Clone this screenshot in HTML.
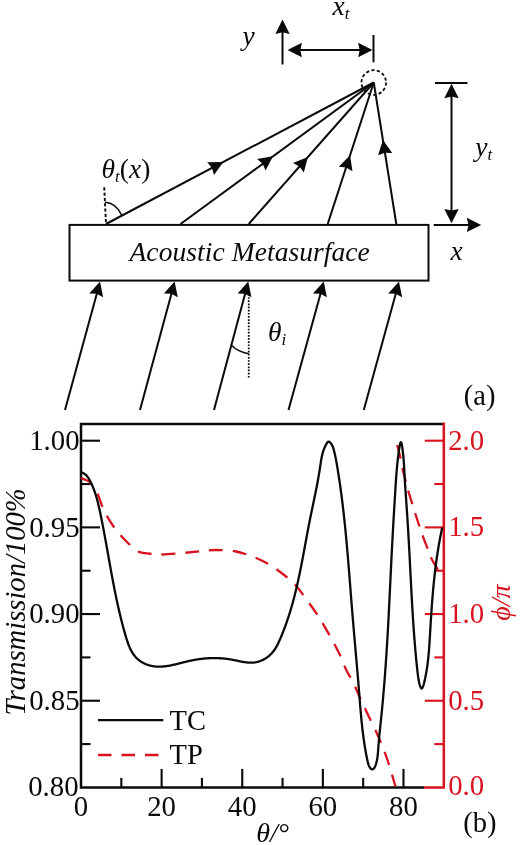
<!DOCTYPE html>
<html><head><meta charset="utf-8"><title>Acoustic Metasurface</title>
<style>
html,body{margin:0;padding:0;background:#fff;}
body{width:520px;height:845px;overflow:hidden;}
svg{display:block;}
svg text{font-family:"Liberation Serif","DejaVu Serif",serif;}
</style></head><body>
<svg width="520" height="845" viewBox="0 0 520 845">
<rect x="0" y="0" width="520" height="845" fill="#ffffff"/>
<rect x="69.5" y="224.9" width="359" height="55.7" fill="none" stroke="#0a0a0a" stroke-width="2.0"/>
<line x1="106.00" y1="224.00" x2="373.75" y2="82.50" stroke="#0a0a0a" stroke-width="2.0" />
<polygon points="223.32,162.00 213.95,175.09 212.00,167.98 207.22,162.36" fill="#0a0a0a"/>
<line x1="180.50" y1="224.00" x2="373.75" y2="82.50" stroke="#0a0a0a" stroke-width="2.0" />
<polygon points="272.96,156.30 265.59,170.62 262.63,163.86 257.09,159.00" fill="#0a0a0a"/>
<line x1="248.75" y1="224.00" x2="373.75" y2="82.50" stroke="#0a0a0a" stroke-width="2.0" />
<polygon points="307.94,157.00 303.80,172.56 299.46,166.59 293.01,163.03" fill="#0a0a0a"/>
<line x1="327.70" y1="224.00" x2="373.75" y2="82.50" stroke="#0a0a0a" stroke-width="2.0" />
<polygon points="350.06,155.30 352.45,171.22 346.10,167.47 338.75,166.76" fill="#0a0a0a"/>
<line x1="396.30" y1="224.00" x2="373.75" y2="82.50" stroke="#0a0a0a" stroke-width="2.0" />
<polygon points="382.91,140.00 392.29,153.09 384.93,152.64 378.07,155.35" fill="#0a0a0a"/>
<line x1="65.00" y1="410.00" x2="97.89" y2="289.72" stroke="#0a0a0a" stroke-width="2.0" />
<polygon points="100.00,281.50 103.15,297.29 96.62,293.85 89.26,293.49" fill="#0a0a0a"/>
<line x1="140.00" y1="410.00" x2="172.51" y2="289.72" stroke="#0a0a0a" stroke-width="2.0" />
<polygon points="174.60,281.50 177.79,297.28 171.26,293.86 163.89,293.52" fill="#0a0a0a"/>
<line x1="214.00" y1="410.00" x2="246.18" y2="289.73" stroke="#0a0a0a" stroke-width="2.0" />
<polygon points="248.25,281.50 251.48,297.27 244.94,293.86 237.57,293.55" fill="#0a0a0a"/>
<line x1="288.50" y1="410.00" x2="321.63" y2="289.71" stroke="#0a0a0a" stroke-width="2.0" />
<polygon points="323.75,281.50 326.87,297.29 320.35,293.84 312.99,293.47" fill="#0a0a0a"/>
<line x1="363.80" y1="410.00" x2="396.88" y2="289.71" stroke="#0a0a0a" stroke-width="2.0" />
<polygon points="399.00,281.50 402.12,297.29 395.61,293.84 388.24,293.48" fill="#0a0a0a"/>
<line x1="104.20" y1="187.30" x2="106.00" y2="224.00" stroke="#0a0a0a" stroke-width="1.9" stroke-dasharray="3.2 2.1"/>
<line x1="248.75" y1="294.00" x2="248.75" y2="379.00" stroke="#0a0a0a" stroke-width="1.8" stroke-dasharray="1.7 1.45"/>
<path d="M105,202.3 Q116,203 121.6,215" fill="none" stroke="#0a0a0a" stroke-width="1.5"/>
<path d="M231.2,345 Q238,352 248.75,353.7" fill="none" stroke="#0a0a0a" stroke-width="1.5"/>
<circle cx="373.75" cy="82.5" r="12.3" fill="none" stroke="#0a0a0a" stroke-width="1.8" stroke-dasharray="3.2 2.32"/>
<line x1="282.50" y1="64.50" x2="282.50" y2="30.00" stroke="#0a0a0a" stroke-width="2.0" />
<polygon points="282.50,19.50 289.70,33.90 282.50,32.30 275.30,33.90" fill="#0a0a0a"/>
<line x1="295.00" y1="50.00" x2="365.00" y2="50.00" stroke="#0a0a0a" stroke-width="2.0" />
<polygon points="287.50,50.00 301.90,42.80 300.30,50.00 301.90,57.20" fill="#0a0a0a"/>
<polygon points="372.50,50.00 358.10,57.20 359.70,50.00 358.10,42.80" fill="#0a0a0a"/>
<line x1="373.50" y1="35.00" x2="373.50" y2="62.30" stroke="#0a0a0a" stroke-width="2.0" />
<line x1="435.00" y1="83.00" x2="467.50" y2="83.00" stroke="#0a0a0a" stroke-width="2.0" />
<line x1="451.50" y1="92.00" x2="451.50" y2="214.00" stroke="#0a0a0a" stroke-width="2.0" />
<polygon points="451.50,83.80 458.70,98.20 451.50,96.60 444.30,98.20" fill="#0a0a0a"/>
<polygon points="451.50,223.30 444.30,208.90 451.50,210.50 458.70,208.90" fill="#0a0a0a"/>
<line x1="433.75" y1="224.90" x2="472.00" y2="224.90" stroke="#0a0a0a" stroke-width="2.0" />
<polygon points="481.25,224.90 466.85,232.10 468.45,224.90 466.85,217.70" fill="#0a0a0a"/>
<text x="242.5" y="44.8" font-size="27.5" font-style="italic" fill="#0a0a0a" >y</text>
<text x="332.5" y="15.3" font-size="27.5" font-style="italic" fill="#0a0a0a" >x<tspan font-size="17" dy="4">t</tspan></text>
<text x="475.3" y="156" font-size="27.5" font-style="italic" fill="#0a0a0a" >y<tspan font-size="17" dy="4">t</tspan></text>
<text x="450.5" y="259.5" font-size="27.5" font-style="italic" fill="#0a0a0a" >x</text>
<text x="101.5" y="177.5" font-size="27.5" font-style="italic" fill="#0a0a0a" >θ<tspan font-size="17" dy="4">t</tspan><tspan dy="-4" font-style="normal">(</tspan>x<tspan font-style="normal">)</tspan></text>
<text x="268" y="340.7" font-size="27.5" font-style="italic" fill="#0a0a0a" >θ<tspan font-size="17" dy="4.5">i</tspan></text>
<text x="129.5" y="261" font-size="27.5" font-style="italic" fill="#0a0a0a" textLength="240.3" lengthAdjust="spacing">Acoustic Metasurface</text>
<text x="463.8" y="404.6" font-size="28.5" font-style="normal" fill="#0a0a0a" >(a)</text>
<text x="463.3" y="832.4" font-size="28.5" font-style="normal" fill="#0a0a0a" >(b)</text>
<path d="M81.0,787.4 L81.0,424.0 L443.8,424.0" fill="none" stroke="#0a0a0a" stroke-width="2.5" stroke-linejoin="miter" stroke-linecap="square"/>
<line x1="81.00" y1="787.40" x2="424.00" y2="787.40" stroke="#0a0a0a" stroke-width="2.5" />
<path d="M424,787.4 L443.8,787.4 L443.8,422.8" fill="none" stroke="#d8121e" stroke-width="2.5" stroke-linejoin="miter"/>
<line x1="81.00" y1="440.70" x2="100.00" y2="440.70" stroke="#0a0a0a" stroke-width="2.1" />
<line x1="443.80" y1="440.70" x2="424.80" y2="440.70" stroke="#d8121e" stroke-width="2.1" />
<line x1="81.00" y1="484.04" x2="90.50" y2="484.04" stroke="#0a0a0a" stroke-width="2.1" />
<line x1="443.80" y1="484.04" x2="434.30" y2="484.04" stroke="#d8121e" stroke-width="2.1" />
<line x1="81.00" y1="527.38" x2="100.00" y2="527.38" stroke="#0a0a0a" stroke-width="2.1" />
<line x1="443.80" y1="527.38" x2="424.80" y2="527.38" stroke="#d8121e" stroke-width="2.1" />
<line x1="81.00" y1="570.72" x2="90.50" y2="570.72" stroke="#0a0a0a" stroke-width="2.1" />
<line x1="443.80" y1="570.72" x2="434.30" y2="570.72" stroke="#d8121e" stroke-width="2.1" />
<line x1="81.00" y1="614.06" x2="100.00" y2="614.06" stroke="#0a0a0a" stroke-width="2.1" />
<line x1="443.80" y1="614.06" x2="424.80" y2="614.06" stroke="#d8121e" stroke-width="2.1" />
<line x1="81.00" y1="657.40" x2="90.50" y2="657.40" stroke="#0a0a0a" stroke-width="2.1" />
<line x1="443.80" y1="657.40" x2="434.30" y2="657.40" stroke="#d8121e" stroke-width="2.1" />
<line x1="81.00" y1="700.74" x2="100.00" y2="700.74" stroke="#0a0a0a" stroke-width="2.1" />
<line x1="443.80" y1="700.74" x2="424.80" y2="700.74" stroke="#d8121e" stroke-width="2.1" />
<line x1="81.00" y1="744.08" x2="90.50" y2="744.08" stroke="#0a0a0a" stroke-width="2.1" />
<line x1="443.80" y1="744.08" x2="434.30" y2="744.08" stroke="#d8121e" stroke-width="2.1" />
<line x1="121.31" y1="787.40" x2="121.31" y2="777.90" stroke="#0a0a0a" stroke-width="2.1" />
<line x1="161.62" y1="787.40" x2="161.62" y2="768.90" stroke="#0a0a0a" stroke-width="2.1" />
<line x1="201.93" y1="787.40" x2="201.93" y2="777.90" stroke="#0a0a0a" stroke-width="2.1" />
<line x1="242.24" y1="787.40" x2="242.24" y2="768.90" stroke="#0a0a0a" stroke-width="2.1" />
<line x1="282.56" y1="787.40" x2="282.56" y2="777.90" stroke="#0a0a0a" stroke-width="2.1" />
<line x1="322.87" y1="787.40" x2="322.87" y2="768.90" stroke="#0a0a0a" stroke-width="2.1" />
<line x1="363.18" y1="787.40" x2="363.18" y2="777.90" stroke="#0a0a0a" stroke-width="2.1" />
<line x1="403.49" y1="787.40" x2="403.49" y2="768.90" stroke="#0a0a0a" stroke-width="2.1" />
<text x="79.6" y="450.0" font-size="28.8" font-style="normal" fill="#0a0a0a" text-anchor="end">1.00</text>
<text x="79.6" y="536.68" font-size="28.8" font-style="normal" fill="#0a0a0a" text-anchor="end">0.95</text>
<text x="79.6" y="623.3599999999999" font-size="28.8" font-style="normal" fill="#0a0a0a" text-anchor="end">0.90</text>
<text x="79.6" y="710.04" font-size="28.8" font-style="normal" fill="#0a0a0a" text-anchor="end">0.85</text>
<text x="78.6" y="796.0" font-size="28.8" font-style="normal" fill="#0a0a0a" text-anchor="end">0.80</text>
<text x="448.2" y="449.8" font-size="28.8" font-style="normal" fill="#d8121e" >2.0</text>
<text x="448.2" y="536.48" font-size="28.8" font-style="normal" fill="#d8121e" >1.5</text>
<text x="448.2" y="623.16" font-size="28.8" font-style="normal" fill="#d8121e" >1.0</text>
<text x="448.2" y="709.84" font-size="28.8" font-style="normal" fill="#d8121e" >0.5</text>
<text x="448.2" y="794.6" font-size="28.8" font-style="normal" fill="#d8121e" >0.0</text>
<text x="81.0" y="815.8" font-size="28.8" font-style="normal" fill="#0a0a0a" text-anchor="middle">0</text>
<text x="161.6222222222222" y="815.8" font-size="28.8" font-style="normal" fill="#0a0a0a" text-anchor="middle">20</text>
<text x="242.24444444444444" y="815.8" font-size="28.8" font-style="normal" fill="#0a0a0a" text-anchor="middle">40</text>
<text x="322.8666666666667" y="815.8" font-size="28.8" font-style="normal" fill="#0a0a0a" text-anchor="middle">60</text>
<text x="403.4888888888889" y="815.8" font-size="28.8" font-style="normal" fill="#0a0a0a" text-anchor="middle">80</text>
<text x="0" y="0" font-size="28.6" font-style="italic" fill="#0a0a0a" text-anchor="middle" transform="translate(25,602) rotate(-90)">Transmission/100%</text>
<text x="0" y="0" font-size="28" font-style="italic" fill="#d8121e" text-anchor="middle" transform="translate(510,602.5) rotate(-90)">ϕ/π</text>
<text x="272.5" y="842" font-size="28" font-style="italic" fill="#0a0a0a" text-anchor="middle">θ/°</text>
<line x1="98.00" y1="720.20" x2="163.30" y2="720.20" stroke="#0a0a0a" stroke-width="2.3" />
<line x1="98.00" y1="755.00" x2="159.00" y2="755.00" stroke="#d8121e" stroke-width="2.3" stroke-dasharray="13.5 10"/>
<text x="169.6" y="729.6" font-size="28.5" font-style="normal" fill="#0a0a0a" >TC</text>
<text x="169.6" y="764.4" font-size="28.5" font-style="normal" fill="#0a0a0a" >TP</text>
<path d="M81.00,478.00C81.83,478.33 84.43,479.20 86.00,480.00C87.57,480.80 88.52,480.63 90.40,482.80C92.28,484.97 95.08,488.47 97.30,493.00C99.52,497.53 101.22,504.67 103.75,510.00C106.28,515.33 109.58,520.67 112.50,525.00C115.42,529.33 118.75,533.08 121.25,536.00C123.75,538.92 124.79,539.96 127.50,542.50C130.21,545.04 133.75,549.38 137.50,551.25C141.25,553.12 145.83,553.21 150.00,553.75C154.17,554.29 157.08,554.62 162.50,554.50C167.92,554.38 176.25,553.54 182.50,553.00C188.75,552.46 194.58,551.75 200.00,551.25C205.42,550.75 209.17,550.00 215.00,550.00C220.83,550.00 228.33,550.00 235.00,551.25C241.67,552.50 249.17,555.21 255.00,557.50C260.83,559.79 265.42,562.29 270.00,565.00C274.58,567.71 278.33,570.50 282.50,573.75C286.67,577.00 291.25,580.54 295.00,584.50C298.75,588.46 301.25,592.42 305.00,597.50C308.75,602.58 313.33,608.58 317.50,615.00C321.67,621.42 326.25,629.33 330.00,636.00C333.75,642.67 337.29,649.33 340.00,655.00C342.71,660.67 344.17,665.67 346.25,670.00C348.33,674.33 350.42,676.83 352.50,681.00C354.58,685.17 356.25,689.54 358.75,695.00C361.25,700.46 364.17,706.67 367.50,713.75C370.83,720.83 375.42,729.79 378.75,737.50C382.08,745.21 384.71,751.83 387.50,760.00C390.29,768.17 394.17,782.08 395.50,786.50" fill="none" stroke="#d8121e" stroke-width="2.3" stroke-dasharray="13.8 10.05"/>
<path d="M397.20,445.00C397.68,446.93 399.23,452.73 400.10,456.60C400.97,460.47 401.37,463.75 402.40,468.20C403.43,472.65 405.35,479.60 406.30,483.30C407.25,487.00 407.07,486.85 408.10,490.40C409.13,493.95 411.32,500.75 412.50,504.60C413.68,508.45 414.02,509.80 415.20,513.50C416.38,517.20 418.42,523.25 419.60,526.80C420.78,530.35 420.82,530.80 422.30,534.80C423.78,538.80 426.87,546.65 428.50,550.80C430.13,554.95 430.47,556.45 432.10,559.70C433.73,562.95 436.73,567.75 438.30,570.30C439.87,572.85 440.97,574.22 441.50,575.00" fill="none" stroke="#d8121e" stroke-width="2.3" stroke-dasharray="14 9.5"/>
<path d="M80.98,472.27 L81.66,472.47 L82.31,472.70 L82.93,472.96 L83.52,473.26 L84.08,473.59 L84.62,473.95 L85.13,474.33 L85.62,474.74 L86.09,475.17 L86.54,475.63 L86.96,476.10 L87.37,476.60 L87.76,477.11 L88.14,477.64 L88.50,478.18 L88.85,478.73 L89.18,479.29 L89.51,479.86 L89.83,480.44 L90.13,481.02 L90.43,481.61 L90.73,482.20 L91.02,482.79 L91.30,483.38 L91.58,483.98 L91.85,484.57 L92.12,485.17 L92.38,485.77 L92.64,486.38 L92.89,486.98 L93.14,487.59 L93.38,488.19 L93.62,488.80 L93.85,489.41 L94.08,490.03 L94.31,490.64 L94.53,491.26 L94.74,491.87 L94.95,492.49 L95.16,493.11 L95.37,493.73 L95.57,494.36 L95.76,494.98 L95.96,495.61 L96.15,496.23 L96.33,496.86 L96.51,497.49 L96.69,498.12 L96.87,498.75 L97.04,499.38 L97.22,500.01 L97.38,500.65 L97.55,501.28 L97.71,501.91 L97.87,502.55 L98.03,503.19 L98.19,503.82 L98.34,504.46 L98.49,505.10 L98.64,505.74 L98.79,506.38 L98.94,507.02 L99.08,507.66 L99.23,508.30 L99.37,508.94 L99.51,509.58 L99.65,510.22 L99.79,510.86 L99.93,511.50 L100.06,512.15 L100.20,512.79 L100.33,513.43 L100.47,514.07 L100.60,514.71 L100.74,515.35 L100.87,516.00 L101.00,516.64 L101.13,517.28 L101.26,517.92 L101.39,518.56 L101.52,519.21 L101.65,519.85 L101.78,520.49 L101.91,521.13 L102.04,521.77 L102.17,522.41 L102.29,523.06 L102.42,523.70 L102.54,524.34 L102.67,524.98 L102.79,525.62 L102.92,526.27 L103.04,526.91 L103.17,527.55 L103.29,528.19 L103.41,528.83 L103.54,529.47 L103.66,530.12 L103.78,530.76 L103.90,531.40 L104.02,532.04 L104.14,532.68 L104.26,533.32 L104.38,533.97 L104.50,534.61 L104.62,535.25 L104.74,535.89 L104.86,536.53 L104.98,537.17 L105.09,537.82 L105.21,538.46 L105.33,539.10 L105.45,539.74 L105.56,540.38 L105.68,541.02 L105.80,541.67 L105.91,542.31 L106.03,542.95 L106.15,543.59 L106.26,544.23 L106.38,544.87 L106.49,545.52 L106.61,546.16 L106.72,546.80 L106.84,547.44 L106.95,548.08 L107.07,548.72 L107.18,549.36 L107.30,550.01 L107.41,550.65 L107.53,551.29 L107.64,551.93 L107.75,552.57 L107.87,553.21 L107.98,553.85 L108.10,554.50 L108.21,555.14 L108.32,555.78 L108.44,556.42 L108.55,557.06 L108.67,557.70 L108.78,558.34 L108.90,558.99 L109.01,559.63 L109.12,560.27 L109.24,560.91 L109.35,561.55 L109.47,562.19 L109.58,562.83 L109.70,563.47 L109.81,564.12 L109.93,564.76 L110.04,565.40 L110.16,566.04 L110.27,566.68 L110.39,567.32 L110.50,567.96 L110.62,568.60 L110.73,569.25 L110.85,569.89 L110.97,570.53 L111.08,571.17 L111.20,571.81 L111.32,572.45 L111.43,573.09 L111.55,573.73 L111.67,574.37 L111.79,575.01 L111.91,575.66 L112.02,576.30 L112.14,576.94 L112.26,577.58 L112.38,578.22 L112.50,578.86 L112.62,579.50 L112.74,580.14 L112.86,580.78 L112.98,581.42 L113.11,582.06 L113.23,582.70 L113.35,583.35 L113.47,583.99 L113.60,584.63 L113.72,585.27 L113.84,585.91 L113.97,586.55 L114.09,587.19 L114.22,587.83 L114.35,588.47 L114.47,589.11 L114.60,589.75 L114.73,590.39 L114.85,591.03 L114.98,591.67 L115.11,592.31 L115.24,592.95 L115.37,593.59 L115.50,594.23 L115.63,594.87 L115.76,595.51 L115.90,596.16 L116.03,596.80 L116.16,597.44 L116.30,598.08 L116.43,598.72 L116.57,599.36 L116.70,600.00 L116.84,600.64 L116.98,601.28 L117.11,601.92 L117.25,602.56 L117.39,603.20 L117.53,603.84 L117.67,604.48 L117.81,605.12 L117.95,605.76 L118.10,606.40 L118.24,607.04 L118.39,607.68 L118.53,608.32 L118.68,608.96 L118.82,609.60 L118.97,610.23 L119.12,610.87 L119.27,611.51 L119.42,612.15 L119.57,612.79 L119.72,613.43 L119.87,614.07 L120.02,614.71 L120.18,615.35 L120.33,615.99 L120.49,616.63 L120.65,617.27 L120.80,617.91 L120.96,618.55 L121.12,619.19 L121.28,619.83 L121.44,620.47 L121.60,621.11 L121.77,621.74 L121.93,622.38 L122.10,623.02 L122.26,623.66 L122.43,624.30 L122.60,624.94 L122.77,625.58 L122.94,626.22 L123.11,626.86 L123.28,627.50 L123.45,628.14 L123.63,628.77 L123.80,629.41 L123.98,630.05 L124.16,630.69 L124.34,631.33 L124.52,631.97 L124.70,632.61 L124.88,633.24 L125.06,633.88 L125.25,634.52 L125.43,635.16 L125.62,635.80 L125.81,636.44 L126.00,637.07 L126.19,637.71 L126.38,638.35 L126.58,638.98 L126.78,639.61 L126.98,640.25 L127.19,640.88 L127.39,641.50 L127.61,642.13 L127.83,642.75 L128.05,643.37 L128.27,643.99 L128.51,644.60 L128.74,645.21 L128.98,645.81 L129.23,646.41 L129.49,647.01 L129.75,647.60 L130.01,648.19 L130.29,648.77 L130.57,649.35 L130.86,649.92 L131.15,650.49 L131.45,651.05 L131.77,651.61 L132.09,652.15 L132.41,652.70 L132.75,653.23 L133.10,653.76 L133.46,654.28 L133.82,654.79 L134.20,655.29 L134.58,655.79 L134.98,656.28 L135.39,656.76 L135.81,657.23 L136.24,657.69 L136.68,658.15 L137.13,658.59 L137.60,659.02 L138.08,659.45 L138.57,659.86 L139.07,660.26 L139.59,660.66 L140.12,661.04 L140.66,661.41 L141.22,661.77 L141.79,662.12 L142.37,662.45 L142.96,662.78 L143.55,663.09 L144.16,663.39 L144.77,663.68 L145.40,663.95 L146.02,664.22 L146.66,664.46 L147.29,664.70 L147.93,664.92 L148.58,665.13 L149.22,665.33 L149.87,665.51 L150.52,665.67 L151.17,665.83 L151.82,665.97 L152.47,666.09 L153.11,666.20 L153.76,666.30 L154.41,666.39 L155.06,666.46 L155.71,666.53 L156.36,666.58 L157.01,666.62 L157.66,666.65 L158.31,666.66 L158.96,666.67 L159.61,666.67 L160.26,666.66 L160.91,666.64 L161.56,666.61 L162.21,666.57 L162.86,666.52 L163.51,666.46 L164.16,666.40 L164.81,666.33 L165.46,666.25 L166.11,666.16 L166.76,666.07 L167.41,665.97 L168.06,665.87 L168.70,665.76 L169.35,665.64 L170.00,665.52 L170.65,665.40 L171.29,665.27 L171.94,665.13 L172.58,664.99 L173.23,664.85 L173.87,664.71 L174.52,664.56 L175.16,664.41 L175.80,664.26 L176.44,664.10 L177.08,663.95 L177.73,663.79 L178.37,663.63 L179.01,663.47 L179.65,663.31 L180.29,663.15 L180.93,662.98 L181.57,662.82 L182.20,662.66 L182.84,662.50 L183.48,662.34 L184.12,662.18 L184.76,662.02 L185.40,661.86 L186.04,661.70 L186.67,661.55 L187.31,661.40 L187.95,661.25 L188.59,661.10 L189.23,660.96 L189.87,660.81 L190.51,660.68 L191.15,660.54 L191.79,660.41 L192.43,660.28 L193.07,660.16 L193.71,660.04 L194.36,659.92 L195.00,659.80 L195.64,659.69 L196.28,659.59 L196.93,659.48 L197.57,659.38 L198.21,659.29 L198.86,659.19 L199.50,659.10 L200.14,659.02 L200.79,658.94 L201.43,658.86 L202.08,658.78 L202.72,658.71 L203.37,658.65 L204.01,658.58 L204.66,658.52 L205.30,658.47 L205.95,658.42 L206.60,658.37 L207.24,658.32 L207.89,658.28 L208.54,658.25 L209.19,658.21 L209.83,658.18 L210.48,658.16 L211.13,658.14 L211.78,658.12 L212.43,658.11 L213.07,658.10 L213.72,658.09 L214.37,658.09 L215.02,658.10 L215.67,658.10 L216.32,658.12 L216.97,658.13 L217.62,658.15 L218.27,658.17 L218.92,658.20 L219.57,658.23 L220.22,658.27 L220.87,658.31 L221.52,658.36 L222.17,658.41 L222.82,658.46 L223.47,658.52 L224.13,658.58 L224.78,658.64 L225.43,658.72 L226.08,658.79 L226.73,658.87 L227.38,658.95 L228.04,659.04 L228.69,659.14 L229.34,659.23 L229.99,659.33 L230.65,659.44 L231.30,659.55 L231.95,659.67 L232.60,659.79 L233.26,659.91 L233.91,660.04 L234.56,660.17 L235.21,660.31 L235.87,660.44 L236.52,660.58 L237.17,660.72 L237.83,660.86 L238.48,660.99 L239.13,661.13 L239.78,661.27 L240.43,661.40 L241.08,661.53 L241.73,661.65 L242.38,661.78 L243.03,661.89 L243.68,662.00 L244.33,662.11 L244.98,662.21 L245.63,662.30 L246.28,662.38 L246.92,662.46 L247.57,662.52 L248.21,662.58 L248.86,662.62 L249.50,662.65 L250.15,662.68 L250.79,662.69 L251.43,662.68 L252.07,662.66 L252.71,662.63 L253.35,662.59 L253.98,662.53 L254.62,662.45 L255.26,662.35 L255.89,662.24 L256.52,662.11 L257.15,661.97 L257.78,661.81 L258.40,661.63 L259.03,661.44 L259.65,661.23 L260.26,661.01 L260.87,660.77 L261.48,660.52 L262.08,660.25 L262.68,659.97 L263.27,659.68 L263.85,659.37 L264.43,659.05 L265.00,658.72 L265.57,658.37 L266.13,658.01 L266.68,657.64 L267.22,657.26 L267.75,656.87 L268.28,656.46 L268.79,656.05 L269.30,655.62 L269.80,655.18 L270.29,654.74 L270.76,654.28 L271.23,653.81 L271.68,653.34 L272.12,652.85 L272.55,652.36 L272.97,651.85 L273.38,651.34 L273.78,650.82 L274.16,650.30 L274.54,649.77 L274.90,649.22 L275.26,648.68 L275.60,648.13 L275.94,647.57 L276.27,647.00 L276.59,646.43 L276.90,645.86 L277.21,645.28 L277.51,644.70 L277.81,644.11 L278.10,643.52 L278.38,642.93 L278.66,642.34 L278.94,641.74 L279.21,641.14 L279.48,640.54 L279.74,639.93 L280.01,639.33 L280.27,638.73 L280.53,638.12 L280.79,637.52 L281.04,636.91 L281.30,636.30 L281.55,635.70 L281.80,635.09 L282.05,634.48 L282.29,633.87 L282.54,633.26 L282.78,632.65 L283.02,632.04 L283.26,631.43 L283.50,630.82 L283.74,630.21 L283.98,629.60 L284.21,628.99 L284.44,628.37 L284.67,627.76 L284.90,627.15 L285.13,626.53 L285.35,625.92 L285.58,625.30 L285.80,624.69 L286.02,624.07 L286.24,623.45 L286.46,622.84 L286.67,622.22 L286.89,621.60 L287.10,620.98 L287.31,620.36 L287.52,619.74 L287.73,619.12 L287.94,618.50 L288.14,617.88 L288.35,617.26 L288.55,616.64 L288.75,616.02 L288.95,615.40 L289.15,614.78 L289.35,614.15 L289.54,613.53 L289.74,612.91 L289.93,612.28 L290.12,611.66 L290.31,611.04 L290.50,610.41 L290.69,609.78 L290.88,609.16 L291.06,608.53 L291.25,607.91 L291.43,607.28 L291.61,606.65 L291.79,606.03 L291.97,605.40 L292.15,604.77 L292.33,604.14 L292.50,603.51 L292.68,602.88 L292.85,602.25 L293.02,601.63 L293.19,601.00 L293.36,600.36 L293.53,599.73 L293.70,599.10 L293.87,598.47 L294.03,597.84 L294.20,597.21 L294.36,596.58 L294.52,595.95 L294.68,595.31 L294.84,594.68 L295.00,594.05 L295.16,593.41 L295.32,592.78 L295.47,592.15 L295.63,591.51 L295.78,590.88 L295.94,590.24 L296.09,589.61 L296.24,588.97 L296.39,588.34 L296.54,587.70 L296.69,587.07 L296.84,586.43 L296.98,585.79 L297.13,585.16 L297.28,584.52 L297.42,583.88 L297.56,583.25 L297.71,582.61 L297.85,581.97 L297.99,581.33 L298.13,580.70 L298.27,580.06 L298.41,579.42 L298.55,578.78 L298.69,578.14 L298.82,577.50 L298.96,576.87 L299.10,576.23 L299.23,575.59 L299.36,574.95 L299.50,574.31 L299.63,573.67 L299.76,573.03 L299.89,572.39 L300.03,571.75 L300.16,571.11 L300.29,570.47 L300.41,569.83 L300.54,569.19 L300.67,568.54 L300.80,567.90 L300.93,567.26 L301.05,566.62 L301.18,565.98 L301.31,565.34 L301.43,564.70 L301.56,564.06 L301.68,563.41 L301.80,562.77 L301.93,562.13 L302.05,561.49 L302.17,560.85 L302.30,560.20 L302.42,559.56 L302.54,558.92 L302.66,558.28 L302.78,557.63 L302.91,556.99 L303.03,556.35 L303.15,555.70 L303.27,555.06 L303.39,554.42 L303.51,553.78 L303.63,553.13 L303.75,552.49 L303.87,551.85 L303.98,551.20 L304.10,550.56 L304.22,549.92 L304.34,549.27 L304.46,548.63 L304.58,547.99 L304.70,547.34 L304.82,546.70 L304.93,546.06 L305.05,545.41 L305.17,544.77 L305.29,544.13 L305.41,543.48 L305.53,542.84 L305.64,542.20 L305.76,541.55 L305.88,540.91 L306.00,540.27 L306.12,539.62 L306.24,538.98 L306.36,538.34 L306.47,537.69 L306.59,537.05 L306.71,536.41 L306.83,535.76 L306.95,535.12 L307.07,534.48 L307.19,533.83 L307.31,533.19 L307.43,532.55 L307.55,531.91 L307.67,531.26 L307.80,530.62 L307.92,529.98 L308.04,529.33 L308.16,528.69 L308.28,528.05 L308.41,527.41 L308.53,526.76 L308.65,526.12 L308.78,525.48 L308.90,524.84 L309.03,524.20 L309.15,523.55 L309.28,522.91 L309.40,522.27 L309.53,521.63 L309.66,520.99 L309.79,520.35 L309.91,519.70 L310.04,519.06 L310.17,518.42 L310.30,517.78 L310.43,517.14 L310.56,516.50 L310.69,515.86 L310.82,515.22 L310.96,514.58 L311.09,513.94 L311.22,513.30 L311.35,512.66 L311.48,512.02 L311.62,511.38 L311.75,510.74 L311.88,510.10 L312.02,509.46 L312.15,508.82 L312.29,508.18 L312.42,507.54 L312.55,506.90 L312.69,506.26 L312.82,505.62 L312.96,504.98 L313.09,504.34 L313.22,503.70 L313.36,503.06 L313.49,502.42 L313.63,501.78 L313.76,501.14 L313.89,500.50 L314.03,499.86 L314.16,499.22 L314.29,498.58 L314.43,497.94 L314.56,497.30 L314.69,496.66 L314.82,496.02 L314.96,495.38 L315.09,494.74 L315.22,494.10 L315.35,493.46 L315.48,492.82 L315.61,492.18 L315.74,491.54 L315.87,490.90 L316.00,490.26 L316.12,489.62 L316.25,488.97 L316.38,488.33 L316.50,487.69 L316.63,487.05 L316.75,486.41 L316.88,485.77 L317.00,485.13 L317.13,484.49 L317.25,483.84 L317.37,483.20 L317.49,482.56 L317.61,481.92 L317.73,481.28 L317.85,480.63 L317.96,479.99 L318.08,479.35 L318.20,478.71 L318.31,478.06 L318.42,477.42 L318.54,476.78 L318.65,476.13 L318.76,475.49 L318.87,474.84 L318.98,474.20 L319.09,473.55 L319.19,472.91 L319.30,472.27 L319.40,471.62 L319.50,470.98 L319.61,470.33 L319.71,469.68 L319.81,469.04 L319.90,468.39 L320.00,467.75 L320.10,467.10 L320.19,466.45 L320.29,465.80 L320.38,465.16 L320.47,464.51 L320.57,463.86 L320.66,463.22 L320.76,462.57 L320.86,461.92 L320.96,461.28 L321.07,460.63 L321.17,459.99 L321.29,459.35 L321.40,458.70 L321.52,458.06 L321.65,457.42 L321.78,456.78 L321.91,456.14 L322.06,455.51 L322.21,454.87 L322.36,454.24 L322.53,453.60 L322.70,452.97 L322.88,452.34 L323.07,451.71 L323.27,451.09 L323.48,450.46 L323.69,449.84 L323.92,449.22 L324.16,448.60 L324.42,447.98 L324.68,447.37 L324.96,446.76 L325.24,446.15 L325.55,445.54 L325.86,444.94 L326.19,444.34 L326.54,443.74 L326.89,443.15 L327.27,442.58 L327.67,442.10 L328.10,441.76 L328.56,441.61 L329.06,441.70 L329.57,442.00 L330.09,442.45 L330.60,443.00 L331.07,443.59 L331.49,444.19 L331.86,444.79 L332.19,445.40 L332.49,446.01 L332.76,446.61 L332.99,447.23 L333.21,447.84 L333.40,448.45 L333.58,449.07 L333.75,449.69 L333.92,450.31 L334.08,450.94 L334.23,451.56 L334.39,452.19 L334.54,452.82 L334.69,453.45 L334.83,454.08 L334.97,454.71 L335.11,455.34 L335.25,455.98 L335.38,456.61 L335.51,457.25 L335.64,457.89 L335.77,458.53 L335.90,459.17 L336.02,459.81 L336.14,460.45 L336.26,461.09 L336.38,461.74 L336.49,462.38 L336.61,463.03 L336.72,463.67 L336.83,464.32 L336.95,464.96 L337.06,465.61 L337.17,466.25 L337.27,466.90 L337.38,467.55 L337.49,468.19 L337.60,468.84 L337.70,469.49 L337.81,470.13 L337.91,470.78 L338.02,471.43 L338.12,472.07 L338.22,472.72 L338.33,473.37 L338.43,474.02 L338.53,474.66 L338.63,475.31 L338.73,475.96 L338.83,476.60 L338.93,477.25 L339.03,477.90 L339.13,478.55 L339.22,479.19 L339.32,479.84 L339.42,480.49 L339.51,481.14 L339.61,481.78 L339.70,482.43 L339.80,483.08 L339.89,483.73 L339.98,484.37 L340.08,485.02 L340.17,485.67 L340.26,486.32 L340.35,486.97 L340.44,487.61 L340.53,488.26 L340.62,488.91 L340.71,489.56 L340.80,490.21 L340.89,490.85 L340.97,491.50 L341.06,492.15 L341.15,492.80 L341.23,493.45 L341.32,494.10 L341.40,494.74 L341.49,495.39 L341.57,496.04 L341.66,496.69 L341.74,497.34 L341.82,497.99 L341.91,498.64 L341.99,499.29 L342.07,499.93 L342.15,500.58 L342.23,501.23 L342.31,501.88 L342.39,502.53 L342.47,503.18 L342.55,503.83 L342.63,504.48 L342.71,505.13 L342.78,505.77 L342.86,506.42 L342.94,507.07 L343.01,507.72 L343.09,508.37 L343.17,509.02 L343.24,509.67 L343.32,510.32 L343.39,510.97 L343.46,511.62 L343.54,512.27 L343.61,512.92 L343.68,513.57 L343.76,514.22 L343.83,514.87 L343.90,515.52 L343.97,516.17 L344.04,516.81 L344.11,517.46 L344.18,518.11 L344.25,518.76 L344.32,519.41 L344.39,520.06 L344.46,520.71 L344.53,521.36 L344.60,522.01 L344.67,522.66 L344.74,523.31 L344.80,523.96 L344.87,524.61 L344.94,525.26 L345.00,525.91 L345.07,526.56 L345.13,527.21 L345.20,527.86 L345.27,528.51 L345.33,529.16 L345.39,529.82 L345.46,530.47 L345.52,531.12 L345.59,531.77 L345.65,532.42 L345.71,533.07 L345.78,533.72 L345.84,534.37 L345.90,535.02 L345.96,535.67 L346.02,536.32 L346.09,536.97 L346.15,537.62 L346.21,538.27 L346.27,538.92 L346.33,539.57 L346.39,540.22 L346.45,540.87 L346.51,541.52 L346.57,542.18 L346.63,542.83 L346.69,543.48 L346.75,544.13 L346.80,544.78 L346.86,545.43 L346.92,546.08 L346.98,546.73 L347.04,547.38 L347.09,548.03 L347.15,548.68 L347.21,549.34 L347.27,549.99 L347.32,550.64 L347.38,551.29 L347.43,551.94 L347.49,552.59 L347.55,553.24 L347.60,553.89 L347.66,554.54 L347.71,555.19 L347.77,555.85 L347.82,556.50 L347.88,557.15 L347.93,557.80 L347.99,558.45 L348.04,559.10 L348.10,559.75 L348.15,560.40 L348.21,561.06 L348.26,561.71 L348.31,562.36 L348.37,563.01 L348.42,563.66 L348.47,564.31 L348.53,564.96 L348.58,565.62 L348.63,566.27 L348.69,566.92 L348.74,567.57 L348.79,568.22 L348.85,568.87 L348.90,569.52 L348.95,570.18 L349.00,570.83 L349.06,571.48 L349.11,572.13 L349.16,572.78 L349.21,573.43 L349.26,574.08 L349.32,574.74 L349.37,575.39 L349.42,576.04 L349.47,576.69 L349.52,577.34 L349.57,577.99 L349.63,578.65 L349.68,579.30 L349.73,579.95 L349.78,580.60 L349.83,581.25 L349.88,581.90 L349.93,582.56 L349.98,583.21 L350.04,583.86 L350.09,584.51 L350.14,585.16 L350.19,585.81 L350.24,586.47 L350.29,587.12 L350.34,587.77 L350.39,588.42 L350.44,589.07 L350.50,589.72 L350.55,590.38 L350.60,591.03 L350.65,591.68 L350.70,592.33 L350.75,592.98 L350.80,593.63 L350.85,594.29 L350.90,594.94 L350.96,595.59 L351.01,596.24 L351.06,596.89 L351.11,597.54 L351.16,598.20 L351.21,598.85 L351.26,599.50 L351.32,600.15 L351.37,600.80 L351.42,601.45 L351.47,602.11 L351.52,602.76 L351.57,603.41 L351.63,604.06 L351.68,604.71 L351.73,605.36 L351.78,606.02 L351.83,606.67 L351.89,607.32 L351.94,607.97 L351.99,608.62 L352.04,609.27 L352.10,609.93 L352.15,610.58 L352.20,611.23 L352.26,611.88 L352.31,612.53 L352.36,613.18 L352.42,613.84 L352.47,614.49 L352.52,615.14 L352.58,615.79 L352.63,616.44 L352.68,617.09 L352.74,617.75 L352.79,618.40 L352.85,619.05 L352.90,619.70 L352.96,620.35 L353.01,621.00 L353.07,621.66 L353.12,622.31 L353.18,622.96 L353.23,623.61 L353.29,624.26 L353.34,624.91 L353.40,625.57 L353.45,626.22 L353.51,626.87 L353.56,627.52 L353.62,628.17 L353.68,628.82 L353.73,629.47 L353.79,630.13 L353.84,630.78 L353.90,631.43 L353.96,632.08 L354.01,632.73 L354.07,633.38 L354.13,634.04 L354.18,634.69 L354.24,635.34 L354.29,635.99 L354.35,636.64 L354.41,637.29 L354.46,637.94 L354.52,638.60 L354.58,639.25 L354.64,639.90 L354.69,640.55 L354.75,641.20 L354.81,641.85 L354.86,642.50 L354.92,643.16 L354.98,643.81 L355.03,644.46 L355.09,645.11 L355.15,645.76 L355.21,646.41 L355.26,647.06 L355.32,647.72 L355.38,648.37 L355.43,649.02 L355.49,649.67 L355.55,650.32 L355.61,650.97 L355.66,651.62 L355.72,652.27 L355.78,652.93 L355.83,653.58 L355.89,654.23 L355.95,654.88 L356.01,655.53 L356.06,656.18 L356.12,656.83 L356.18,657.49 L356.23,658.14 L356.29,658.79 L356.35,659.44 L356.40,660.09 L356.46,660.74 L356.52,661.39 L356.57,662.04 L356.63,662.70 L356.69,663.35 L356.74,664.00 L356.80,664.65 L356.86,665.30 L356.91,665.95 L356.97,666.60 L357.03,667.25 L357.08,667.91 L357.14,668.56 L357.19,669.21 L357.25,669.86 L357.31,670.51 L357.36,671.16 L357.42,671.81 L357.47,672.46 L357.53,673.12 L357.58,673.77 L357.64,674.42 L357.70,675.07 L357.75,675.72 L357.81,676.37 L357.86,677.02 L357.92,677.67 L357.97,678.32 L358.03,678.98 L358.08,679.63 L358.13,680.28 L358.19,680.93 L358.24,681.58 L358.30,682.23 L358.35,682.88 L358.41,683.53 L358.46,684.19 L358.51,684.84 L358.57,685.49 L358.62,686.14 L358.67,686.79 L358.73,687.44 L358.78,688.09 L358.83,688.74 L358.88,689.39 L358.94,690.05 L358.99,690.70 L359.04,691.35 L359.09,692.00 L359.15,692.65 L359.20,693.30 L359.25,693.95 L359.30,694.60 L359.35,695.25 L359.40,695.91 L359.46,696.56 L359.51,697.21 L359.56,697.86 L359.61,698.51 L359.66,699.16 L359.72,699.81 L359.77,700.46 L359.82,701.11 L359.87,701.76 L359.93,702.41 L359.98,703.07 L360.03,703.72 L360.08,704.37 L360.14,705.02 L360.19,705.67 L360.25,706.32 L360.30,706.97 L360.35,707.62 L360.41,708.27 L360.46,708.92 L360.52,709.57 L360.58,710.22 L360.63,710.87 L360.69,711.52 L360.75,712.18 L360.80,712.83 L360.86,713.48 L360.92,714.13 L360.98,714.78 L361.04,715.43 L361.10,716.08 L361.16,716.73 L361.22,717.38 L361.28,718.03 L361.34,718.68 L361.41,719.33 L361.47,719.98 L361.53,720.63 L361.60,721.28 L361.66,721.93 L361.73,722.58 L361.80,723.23 L361.86,723.88 L361.93,724.53 L362.00,725.18 L362.07,725.83 L362.14,726.48 L362.21,727.13 L362.29,727.77 L362.36,728.42 L362.43,729.07 L362.51,729.72 L362.58,730.37 L362.66,731.02 L362.74,731.67 L362.82,732.32 L362.90,732.97 L362.98,733.62 L363.06,734.27 L363.14,734.91 L363.23,735.56 L363.31,736.21 L363.40,736.86 L363.48,737.51 L363.57,738.16 L363.66,738.80 L363.75,739.45 L363.84,740.10 L363.93,740.75 L364.03,741.40 L364.12,742.05 L364.22,742.69 L364.32,743.34 L364.42,743.99 L364.52,744.64 L364.62,745.28 L364.72,745.93 L364.82,746.58 L364.93,747.23 L365.04,747.87 L365.14,748.52 L365.25,749.17 L365.36,749.81 L365.48,750.46 L365.59,751.11 L365.70,751.75 L365.82,752.40 L365.94,753.05 L366.06,753.69 L366.18,754.34 L366.30,754.99 L366.43,755.63 L366.55,756.28 L366.68,756.92 L366.81,757.57 L366.94,758.22 L367.07,758.86 L367.21,759.51 L367.34,760.15 L367.48,760.80 L367.62,761.44 L367.77,762.08 L367.93,762.72 L368.10,763.35 L368.28,763.98 L368.48,764.59 L368.71,765.20 L368.96,765.79 L369.25,766.37 L369.56,766.93 L369.91,767.47 L370.30,767.99 L370.73,768.50 L371.20,768.95 L371.72,769.27 L372.27,769.38 L372.84,769.23 L373.39,768.90 L373.89,768.44 L374.30,767.93 L374.65,767.36 L374.95,766.76 L375.21,766.14 L375.45,765.51 L375.68,764.88 L375.89,764.24 L376.09,763.61 L376.27,762.97 L376.44,762.33 L376.60,761.69 L376.76,761.05 L376.89,760.41 L377.02,759.76 L377.15,759.12 L377.26,758.47 L377.36,757.82 L377.46,757.17 L377.54,756.52 L377.63,755.87 L377.70,755.22 L377.77,754.57 L377.84,753.91 L377.90,753.26 L377.96,752.61 L378.01,751.96 L378.06,751.30 L378.11,750.65 L378.16,749.99 L378.20,749.34 L378.25,748.69 L378.30,748.03 L378.34,747.38 L378.39,746.73 L378.44,746.08 L378.49,745.42 L378.54,744.77 L378.59,744.12 L378.64,743.47 L378.70,742.82 L378.75,742.17 L378.81,741.52 L378.87,740.87 L378.92,740.22 L378.98,739.57 L379.04,738.92 L379.10,738.28 L379.16,737.63 L379.22,736.98 L379.28,736.33 L379.34,735.68 L379.41,735.04 L379.47,734.39 L379.53,733.74 L379.60,733.09 L379.66,732.45 L379.73,731.80 L379.79,731.15 L379.86,730.51 L379.92,729.86 L379.99,729.21 L380.06,728.57 L380.12,727.92 L380.19,727.27 L380.26,726.63 L380.32,725.98 L380.39,725.34 L380.46,724.69 L380.53,724.04 L380.60,723.40 L380.66,722.75 L380.73,722.10 L380.80,721.45 L380.87,720.81 L380.93,720.16 L381.00,719.51 L381.07,718.86 L381.13,718.22 L381.20,717.57 L381.27,716.92 L381.33,716.27 L381.40,715.62 L381.46,714.97 L381.53,714.33 L381.59,713.68 L381.66,713.03 L381.72,712.38 L381.79,711.73 L381.85,711.08 L381.91,710.43 L381.98,709.78 L382.04,709.13 L382.10,708.48 L382.16,707.83 L382.23,707.17 L382.29,706.52 L382.35,705.87 L382.41,705.22 L382.47,704.57 L382.53,703.92 L382.59,703.27 L382.65,702.61 L382.71,701.96 L382.77,701.31 L382.83,700.66 L382.89,700.00 L382.95,699.35 L383.01,698.70 L383.07,698.05 L383.12,697.39 L383.18,696.74 L383.24,696.09 L383.30,695.43 L383.35,694.78 L383.41,694.13 L383.47,693.47 L383.52,692.82 L383.58,692.17 L383.63,691.51 L383.69,690.86 L383.75,690.20 L383.80,689.55 L383.85,688.90 L383.91,688.24 L383.96,687.59 L384.02,686.93 L384.07,686.28 L384.13,685.62 L384.18,684.97 L384.23,684.32 L384.28,683.66 L384.34,683.01 L384.39,682.35 L384.44,681.70 L384.49,681.04 L384.54,680.39 L384.60,679.73 L384.65,679.08 L384.70,678.42 L384.75,677.77 L384.80,677.11 L384.85,676.46 L384.90,675.80 L384.95,675.15 L385.00,674.49 L385.05,673.84 L385.10,673.18 L385.15,672.53 L385.19,671.87 L385.24,671.22 L385.29,670.56 L385.34,669.91 L385.39,669.25 L385.43,668.60 L385.48,667.95 L385.53,667.29 L385.58,666.64 L385.62,665.98 L385.67,665.33 L385.72,664.67 L385.76,664.02 L385.81,663.36 L385.85,662.71 L385.90,662.05 L385.94,661.40 L385.99,660.75 L386.03,660.09 L386.08,659.44 L386.12,658.78 L386.17,658.13 L386.21,657.48 L386.25,656.82 L386.30,656.17 L386.34,655.51 L386.38,654.86 L386.43,654.21 L386.47,653.55 L386.51,652.90 L386.55,652.25 L386.60,651.59 L386.64,650.94 L386.68,650.29 L386.72,649.64 L386.76,648.98 L386.80,648.33 L386.84,647.68 L386.89,647.03 L386.93,646.37 L386.97,645.72 L387.01,645.07 L387.05,644.42 L387.09,643.77 L387.13,643.12 L387.17,642.46 L387.20,641.81 L387.24,641.16 L387.28,640.51 L387.32,639.86 L387.36,639.21 L387.40,638.56 L387.44,637.91 L387.47,637.26 L387.51,636.61 L387.55,635.96 L387.59,635.31 L387.63,634.66 L387.66,634.01 L387.70,633.36 L387.74,632.71 L387.77,632.06 L387.81,631.41 L387.85,630.76 L387.88,630.11 L387.92,629.46 L387.96,628.81 L387.99,628.16 L388.03,627.51 L388.06,626.87 L388.10,626.22 L388.13,625.57 L388.17,624.92 L388.20,624.27 L388.24,623.62 L388.27,622.97 L388.31,622.32 L388.34,621.68 L388.38,621.03 L388.41,620.38 L388.45,619.73 L388.48,619.08 L388.51,618.43 L388.55,617.78 L388.58,617.14 L388.62,616.49 L388.65,615.84 L388.68,615.19 L388.72,614.54 L388.75,613.90 L388.78,613.25 L388.82,612.60 L388.85,611.95 L388.88,611.30 L388.92,610.65 L388.95,610.01 L388.98,609.36 L389.01,608.71 L389.05,608.06 L389.08,607.41 L389.11,606.76 L389.14,606.12 L389.18,605.47 L389.21,604.82 L389.24,604.17 L389.27,603.52 L389.31,602.87 L389.34,602.22 L389.37,601.58 L389.40,600.93 L389.43,600.28 L389.47,599.63 L389.50,598.98 L389.53,598.33 L389.56,597.68 L389.59,597.03 L389.62,596.38 L389.66,595.73 L389.69,595.09 L389.72,594.44 L389.75,593.79 L389.78,593.14 L389.81,592.49 L389.84,591.84 L389.88,591.19 L389.91,590.54 L389.94,589.89 L389.97,589.24 L390.00,588.59 L390.03,587.94 L390.06,587.29 L390.10,586.64 L390.13,585.98 L390.16,585.33 L390.19,584.68 L390.22,584.03 L390.25,583.38 L390.28,582.73 L390.31,582.08 L390.35,581.43 L390.38,580.77 L390.41,580.12 L390.44,579.47 L390.47,578.82 L390.50,578.17 L390.53,577.51 L390.56,576.86 L390.60,576.21 L390.63,575.56 L390.66,574.90 L390.69,574.25 L390.72,573.60 L390.75,572.94 L390.79,572.29 L390.82,571.63 L390.85,570.98 L390.88,570.33 L390.91,569.67 L390.94,569.02 L390.98,568.36 L391.01,567.71 L391.04,567.05 L391.07,566.39 L391.10,565.74 L391.14,565.08 L391.17,564.43 L391.20,563.77 L391.23,563.11 L391.26,562.46 L391.30,561.80 L391.33,561.14 L391.36,560.49 L391.39,559.83 L391.43,559.17 L391.46,558.51 L391.49,557.85 L391.53,557.19 L391.56,556.53 L391.59,555.88 L391.63,555.22 L391.66,554.56 L391.69,553.90 L391.73,553.24 L391.76,552.58 L391.79,551.92 L391.83,551.25 L391.86,550.59 L391.89,549.93 L391.93,549.27 L391.96,548.61 L392.00,547.94 L392.03,547.28 L392.07,546.62 L392.10,545.96 L392.14,545.29 L392.17,544.63 L392.21,543.96 L392.24,543.30 L392.28,542.64 L392.31,541.97 L392.35,541.31 L392.38,540.64 L392.42,539.97 L392.45,539.31 L392.49,538.64 L392.53,537.98 L392.56,537.31 L392.60,536.65 L392.63,535.98 L392.67,535.31 L392.71,534.65 L392.74,533.98 L392.78,533.32 L392.82,532.65 L392.85,531.98 L392.89,531.32 L392.93,530.65 L392.97,529.99 L393.00,529.32 L393.04,528.66 L393.08,527.99 L393.11,527.33 L393.15,526.66 L393.19,526.00 L393.23,525.33 L393.27,524.67 L393.30,524.01 L393.34,523.34 L393.38,522.68 L393.42,522.02 L393.45,521.36 L393.49,520.70 L393.53,520.04 L393.57,519.38 L393.61,518.72 L393.65,518.06 L393.68,517.40 L393.72,516.74 L393.76,516.08 L393.80,515.43 L393.84,514.77 L393.88,514.11 L393.92,513.46 L393.95,512.80 L393.99,512.15 L394.03,511.50 L394.07,510.85 L394.11,510.19 L394.15,509.54 L394.19,508.89 L394.23,508.24 L394.26,507.60 L394.30,506.95 L394.34,506.30 L394.38,505.66 L394.42,505.01 L394.46,504.37 L394.50,503.73 L394.54,503.08 L394.58,502.44 L394.62,501.80 L394.65,501.17 L394.69,500.53 L394.73,499.89 L394.77,499.26 L394.81,498.62 L394.85,497.99 L394.89,497.36 L394.93,496.73 L394.97,496.10 L395.01,495.47 L395.04,494.84 L395.08,494.22 L395.12,493.59 L395.16,492.97 L395.20,492.35 L395.24,491.73 L395.28,491.11 L395.32,490.49 L395.36,489.87 L395.39,489.26 L395.43,488.65 L395.47,488.04 L395.51,487.43 L395.55,486.82 L395.59,486.21 L395.63,485.60 L395.67,485.00 L395.70,484.40 L395.74,483.80 L395.78,483.20 L395.82,482.60 L395.86,482.00 L395.90,481.41 L395.93,480.82 L395.97,480.22 L396.01,479.63 L396.05,479.04 L396.09,478.44 L396.13,477.85 L396.17,477.25 L396.22,476.65 L396.26,476.05 L396.30,475.45 L396.35,474.85 L396.39,474.24 L396.44,473.63 L396.49,473.01 L396.54,472.40 L396.59,471.77 L396.64,471.15 L396.69,470.51 L396.74,469.88 L396.80,469.24 L396.86,468.59 L396.92,467.93 L396.98,467.27 L397.04,466.61 L397.11,465.93 L397.17,465.25 L397.24,464.56 L397.31,463.86 L397.39,463.15 L397.46,462.44 L397.54,461.71 L397.62,460.98 L397.71,460.24 L397.79,459.48 L397.88,458.72 L397.98,457.94 L398.07,457.16 L398.17,456.36 L398.27,455.55 L398.37,454.73 L398.48,453.89 L398.59,453.05 L398.70,452.19 L398.82,451.32 L398.94,450.44 L399.06,449.58 L399.19,448.72 L399.31,447.89 L399.44,447.09 L399.58,446.32 L399.71,445.59 L399.84,444.92 L399.98,444.30 L400.12,443.75 L400.25,443.27 L400.39,442.88 L400.53,442.57 L400.67,442.36 L400.81,442.25 L400.95,442.26 L401.08,442.38 L401.22,442.60 L401.35,442.93 L401.49,443.34 L401.62,443.84 L401.75,444.41 L401.88,445.04 L402.01,445.74 L402.13,446.48 L402.25,447.26 L402.37,448.08 L402.48,448.92 L402.59,449.77 L402.70,450.64 L402.80,451.50 L402.90,452.35 L402.99,453.19 L403.08,454.00 L403.16,454.80 L403.24,455.59 L403.32,456.35 L403.39,457.11 L403.46,457.84 L403.53,458.57 L403.59,459.28 L403.65,459.98 L403.70,460.66 L403.75,461.34 L403.80,462.00 L403.85,462.65 L403.90,463.30 L403.94,463.93 L403.98,464.56 L404.02,465.18 L404.05,465.80 L404.09,466.40 L404.12,467.01 L404.16,467.60 L404.19,468.20 L404.22,468.79 L404.25,469.38 L404.28,469.96 L404.30,470.54 L404.33,471.13 L404.36,471.71 L404.39,472.29 L404.42,472.88 L404.45,473.47 L404.48,474.06 L404.51,474.65 L404.54,475.25 L404.57,475.85 L404.60,476.45 L404.64,477.06 L404.67,477.67 L404.71,478.29 L404.74,478.91 L404.78,479.53 L404.82,480.16 L404.85,480.79 L404.89,481.42 L404.93,482.06 L404.97,482.70 L405.01,483.34 L405.06,483.99 L405.10,484.64 L405.14,485.28 L405.18,485.94 L405.23,486.59 L405.27,487.25 L405.32,487.91 L405.36,488.57 L405.41,489.23 L405.45,489.89 L405.50,490.56 L405.54,491.22 L405.59,491.89 L405.64,492.56 L405.68,493.23 L405.73,493.90 L405.78,494.57 L405.82,495.24 L405.87,495.91 L405.92,496.58 L405.97,497.25 L406.01,497.93 L406.06,498.60 L406.11,499.27 L406.16,499.94 L406.20,500.61 L406.25,501.28 L406.30,501.95 L406.34,502.62 L406.39,503.29 L406.44,503.96 L406.48,504.63 L406.53,505.29 L406.57,505.96 L406.62,506.62 L406.67,507.29 L406.71,507.95 L406.76,508.61 L406.80,509.27 L406.84,509.93 L406.89,510.59 L406.93,511.25 L406.98,511.91 L407.02,512.57 L407.06,513.23 L407.11,513.88 L407.15,514.54 L407.19,515.20 L407.24,515.85 L407.28,516.51 L407.32,517.16 L407.36,517.81 L407.41,518.47 L407.45,519.12 L407.49,519.77 L407.53,520.43 L407.57,521.08 L407.61,521.73 L407.65,522.38 L407.69,523.03 L407.74,523.68 L407.78,524.33 L407.82,524.98 L407.86,525.63 L407.90,526.28 L407.94,526.93 L407.98,527.57 L408.02,528.22 L408.05,528.87 L408.09,529.52 L408.13,530.17 L408.17,530.81 L408.21,531.46 L408.25,532.11 L408.29,532.76 L408.33,533.40 L408.36,534.05 L408.40,534.70 L408.44,535.35 L408.48,535.99 L408.51,536.64 L408.55,537.29 L408.59,537.94 L408.63,538.58 L408.66,539.23 L408.70,539.88 L408.74,540.53 L408.77,541.18 L408.81,541.82 L408.84,542.47 L408.88,543.12 L408.92,543.77 L408.95,544.42 L408.99,545.07 L409.02,545.72 L409.06,546.36 L409.09,547.01 L409.13,547.66 L409.17,548.31 L409.20,548.96 L409.24,549.61 L409.27,550.26 L409.30,550.91 L409.34,551.56 L409.37,552.21 L409.41,552.86 L409.44,553.51 L409.48,554.16 L409.51,554.81 L409.55,555.46 L409.58,556.11 L409.61,556.76 L409.65,557.42 L409.68,558.07 L409.72,558.72 L409.75,559.37 L409.78,560.02 L409.82,560.67 L409.85,561.32 L409.88,561.97 L409.92,562.63 L409.95,563.28 L409.99,563.93 L410.02,564.58 L410.05,565.23 L410.09,565.89 L410.12,566.54 L410.15,567.19 L410.19,567.84 L410.22,568.50 L410.25,569.15 L410.29,569.80 L410.32,570.45 L410.35,571.11 L410.39,571.76 L410.42,572.41 L410.45,573.06 L410.49,573.72 L410.52,574.37 L410.55,575.02 L410.59,575.68 L410.62,576.33 L410.66,576.98 L410.69,577.64 L410.72,578.29 L410.76,578.94 L410.79,579.60 L410.82,580.25 L410.86,580.90 L410.89,581.56 L410.93,582.21 L410.96,582.86 L410.99,583.52 L411.03,584.17 L411.06,584.83 L411.10,585.48 L411.13,586.13 L411.17,586.79 L411.20,587.44 L411.24,588.10 L411.27,588.75 L411.30,589.40 L411.34,590.06 L411.37,590.71 L411.41,591.37 L411.44,592.02 L411.48,592.67 L411.52,593.33 L411.55,593.98 L411.59,594.64 L411.62,595.29 L411.66,595.94 L411.69,596.60 L411.73,597.25 L411.77,597.91 L411.80,598.56 L411.84,599.22 L411.88,599.87 L411.91,600.52 L411.95,601.18 L411.99,601.83 L412.02,602.49 L412.06,603.14 L412.10,603.80 L412.14,604.45 L412.18,605.10 L412.21,605.76 L412.25,606.41 L412.29,607.07 L412.33,607.72 L412.37,608.38 L412.41,609.03 L412.45,609.68 L412.48,610.34 L412.52,610.99 L412.56,611.65 L412.60,612.30 L412.64,612.95 L412.68,613.61 L412.73,614.26 L412.77,614.92 L412.81,615.57 L412.85,616.22 L412.89,616.88 L412.93,617.53 L412.97,618.19 L413.01,618.84 L413.06,619.49 L413.10,620.15 L413.14,620.80 L413.19,621.45 L413.23,622.11 L413.27,622.76 L413.32,623.41 L413.36,624.07 L413.40,624.72 L413.45,625.37 L413.49,626.03 L413.54,626.68 L413.58,627.33 L413.63,627.99 L413.68,628.64 L413.72,629.29 L413.77,629.95 L413.82,630.60 L413.86,631.25 L413.91,631.90 L413.96,632.56 L414.01,633.21 L414.05,633.86 L414.10,634.51 L414.15,635.17 L414.20,635.82 L414.25,636.47 L414.30,637.12 L414.35,637.77 L414.40,638.43 L414.45,639.08 L414.50,639.73 L414.55,640.38 L414.60,641.03 L414.66,641.68 L414.71,642.34 L414.76,642.99 L414.81,643.64 L414.87,644.29 L414.92,644.94 L414.98,645.59 L415.03,646.24 L415.09,646.89 L415.14,647.54 L415.20,648.19 L415.25,648.84 L415.31,649.49 L415.37,650.14 L415.42,650.79 L415.48,651.44 L415.54,652.09 L415.60,652.74 L415.66,653.39 L415.71,654.04 L415.77,654.69 L415.83,655.34 L415.89,655.99 L415.95,656.64 L416.02,657.29 L416.08,657.94 L416.14,658.59 L416.20,659.23 L416.26,659.88 L416.33,660.53 L416.39,661.18 L416.46,661.83 L416.52,662.47 L416.58,663.12 L416.65,663.77 L416.72,664.42 L416.78,665.06 L416.85,665.71 L416.92,666.36 L416.98,667.01 L417.05,667.65 L417.12,668.30 L417.19,668.94 L417.26,669.59 L417.33,670.24 L417.40,670.88 L417.47,671.53 L417.54,672.17 L417.62,672.82 L417.69,673.47 L417.77,674.11 L417.85,674.76 L417.94,675.41 L418.03,676.05 L418.12,676.70 L418.21,677.35 L418.31,678.00 L418.42,678.65 L418.52,679.30 L418.64,679.95 L418.76,680.60 L418.88,681.25 L419.01,681.91 L419.15,682.56 L419.30,683.22 L419.46,683.87 L419.63,684.52 L419.83,685.18 L420.04,685.83 L420.28,686.48 L420.55,687.12 L420.85,687.74 L421.16,688.24 L421.50,688.50 L421.84,688.45 L422.18,688.09 L422.50,687.55 L422.81,686.91 L423.07,686.27 L423.31,685.63 L423.52,684.99 L423.71,684.35 L423.89,683.70 L424.05,683.06 L424.21,682.42 L424.36,681.78 L424.52,681.14 L424.66,680.50 L424.81,679.86 L424.95,679.22 L425.09,678.57 L425.23,677.93 L425.36,677.29 L425.49,676.64 L425.62,676.00 L425.74,675.36 L425.87,674.71 L425.99,674.07 L426.10,673.43 L426.22,672.78 L426.33,672.14 L426.44,671.49 L426.55,670.85 L426.65,670.20 L426.76,669.56 L426.86,668.91 L426.96,668.27 L427.05,667.62 L427.15,666.97 L427.24,666.33 L427.33,665.68 L427.42,665.04 L427.51,664.39 L427.59,663.74 L427.67,663.09 L427.75,662.45 L427.83,661.80 L427.91,661.15 L427.98,660.50 L428.06,659.86 L428.13,659.21 L428.20,658.56 L428.27,657.91 L428.33,657.26 L428.40,656.61 L428.46,655.96 L428.53,655.32 L428.59,654.67 L428.65,654.02 L428.71,653.37 L428.76,652.72 L428.82,652.07 L428.87,651.42 L428.93,650.77 L428.98,650.12 L429.03,649.47 L429.08,648.82 L429.13,648.17 L429.18,647.52 L429.23,646.87 L429.28,646.22 L429.32,645.56 L429.37,644.91 L429.41,644.26 L429.46,643.61 L429.50,642.96 L429.54,642.31 L429.58,641.66 L429.62,641.01 L429.67,640.35 L429.71,639.70 L429.75,639.05 L429.78,638.40 L429.82,637.75 L429.86,637.09 L429.90,636.44 L429.94,635.79 L429.98,635.14 L430.02,634.49 L430.05,633.83 L430.09,633.18 L430.13,632.53 L430.17,631.88 L430.20,631.22 L430.24,630.57 L430.28,629.92 L430.32,629.27 L430.36,628.61 L430.39,627.96 L430.43,627.31 L430.47,626.65 L430.51,626.00 L430.55,625.35 L430.59,624.70 L430.63,624.04 L430.67,623.39 L430.71,622.74 L430.75,622.08 L430.79,621.43 L430.83,620.78 L430.87,620.13 L430.91,619.47 L430.95,618.82 L430.99,618.17 L431.03,617.51 L431.08,616.86 L431.12,616.21 L431.16,615.55 L431.20,614.90 L431.25,614.25 L431.29,613.59 L431.34,612.94 L431.38,612.29 L431.42,611.64 L431.47,610.98 L431.51,610.33 L431.56,609.68 L431.61,609.02 L431.65,608.37 L431.70,607.72 L431.74,607.07 L431.79,606.41 L431.84,605.76 L431.89,605.11 L431.94,604.45 L431.98,603.80 L432.03,603.15 L432.08,602.50 L432.13,601.84 L432.18,601.19 L432.23,600.54 L432.29,599.88 L432.34,599.23 L432.39,598.58 L432.44,597.93 L432.50,597.27 L432.55,596.62 L432.60,595.97 L432.66,595.32 L432.71,594.67 L432.77,594.01 L432.82,593.36 L432.88,592.71 L432.94,592.06 L432.99,591.41 L433.05,590.75 L433.11,590.10 L433.17,589.45 L433.23,588.80 L433.29,588.15 L433.35,587.50 L433.41,586.84 L433.47,586.19 L433.53,585.54 L433.60,584.89 L433.66,584.24 L433.72,583.59 L433.79,582.94 L433.85,582.29 L433.92,581.64 L433.99,580.98 L434.05,580.33 L434.12,579.68 L434.19,579.03 L434.26,578.38 L434.33,577.73 L434.40,577.08 L434.47,576.43 L434.54,575.78 L434.61,575.13 L434.69,574.48 L434.76,573.83 L434.83,573.18 L434.91,572.53 L434.98,571.89 L435.06,571.24 L435.14,570.59 L435.22,569.94 L435.29,569.29 L435.37,568.64 L435.45,567.99 L435.53,567.34 L435.62,566.70 L435.70,566.05 L435.78,565.40 L435.86,564.75 L435.95,564.10 L436.03,563.46 L436.12,562.81 L436.21,562.16 L436.29,561.51 L436.38,560.87 L436.47,560.22 L436.56,559.57 L436.65,558.93 L436.74,558.28 L436.84,557.63 L436.93,556.99 L437.02,556.34 L437.12,555.70 L437.22,555.05 L437.31,554.40 L437.41,553.76 L437.51,553.11 L437.61,552.47 L437.71,551.82 L437.81,551.18 L437.91,550.53 L438.02,549.89 L438.12,549.25 L438.22,548.60 L438.33,547.96 L438.44,547.31 L438.54,546.67 L438.65,546.03 L438.76,545.38 L438.87,544.74 L438.98,544.10 L439.10,543.46 L439.21,542.81 L439.33,542.17 L439.44,541.53 L439.56,540.89 L439.67,540.24 L439.79,539.60 L439.91,538.96 L440.03,538.32 L440.15,537.68 L440.28,537.04 L440.40,536.40 L440.53,535.76 L440.65,535.12 L440.78,534.48 L440.91,533.84 L441.03,533.20 L441.16,532.56 L441.30,531.92 L441.43,531.28 L441.56,530.65 L441.70,530.01 L441.83,529.37 L441.97,528.73 L442.10,528.09 L442.24,527.46" fill="none" stroke="#0a0a0a" stroke-width="2.3" stroke-linejoin="round"/>
</svg>
</body></html>
